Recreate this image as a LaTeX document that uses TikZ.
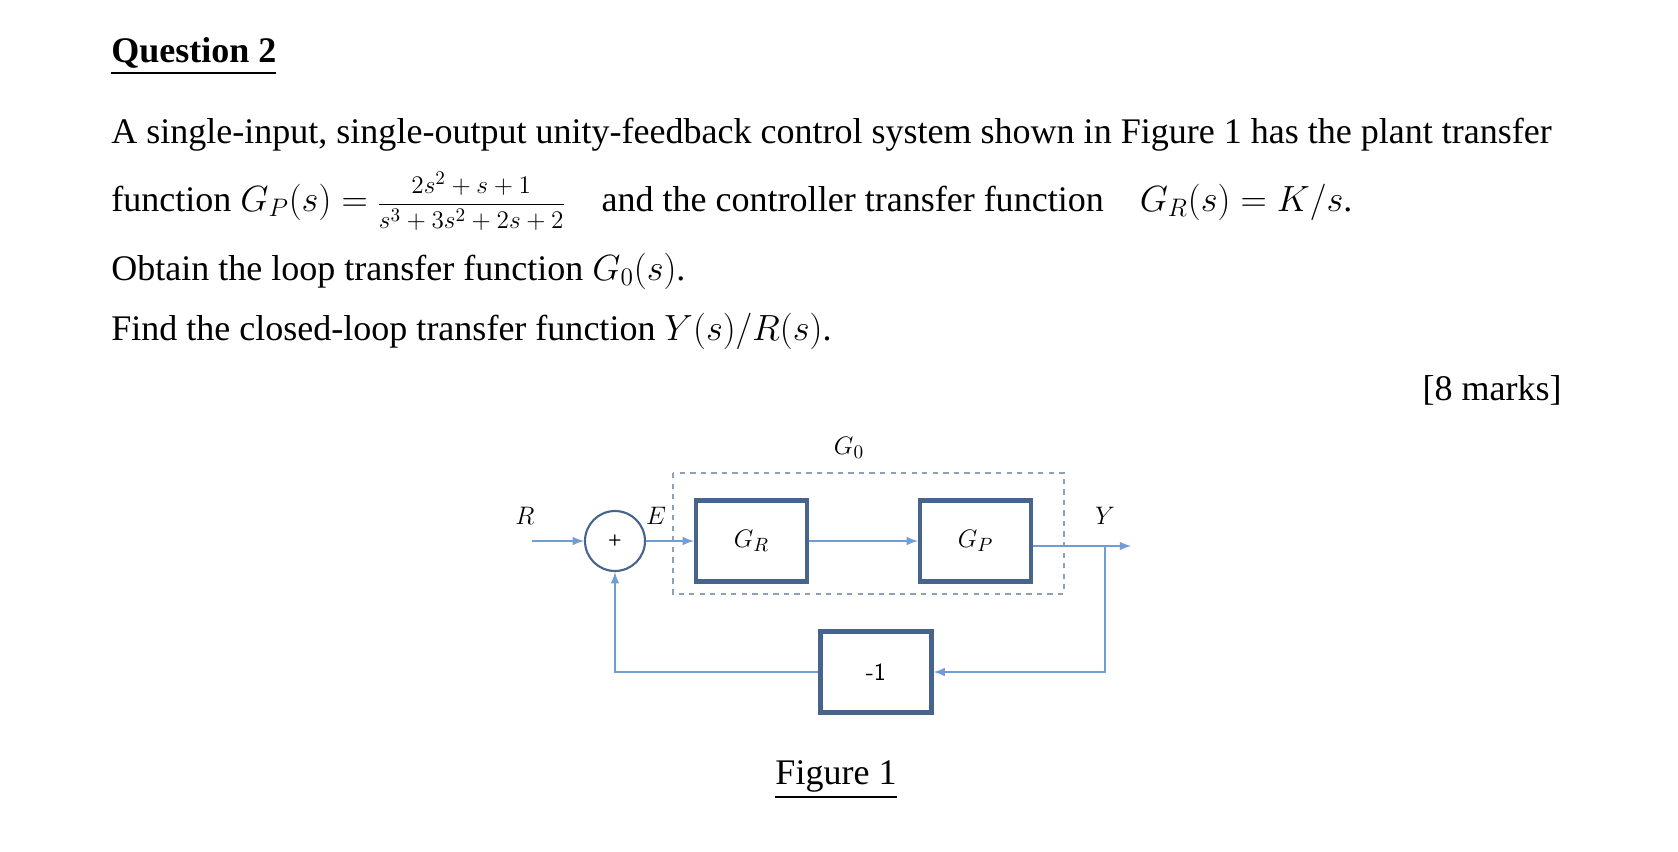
\documentclass[tikz,border=0pt]{standalone}
\usepackage{fontspec}
\setmainfont{Liberation Serif}
\usepackage{amsmath}
\begin{document}
\begin{tikzpicture}[x=0.02cm,y=-0.02cm,
  txt/.style={anchor=base west,inner sep=0,font=\fontsize{20.5}{24}\selectfont},
  blk/.style={draw=blkc,line width=2.4pt,minimum width=2.22cm,minimum height=1.62cm,inner sep=0},
  sig/.style={draw=sigc,line width=1.2pt,-latex},
  lbl/.style={font=\fontsize{15}{17}\selectfont}]
\definecolor{blkc}{RGB}{70,100,140}
\definecolor{sigc}{RGB}{112,157,212}
\definecolor{dashc}{RGB}{140,160,185}
\useasboundingbox (0,0) rectangle (1678,852);
\fill[white] (0,0) rectangle (1678,852);
\node[txt,font=\fontsize{20.5}{24}\selectfont\bfseries] (q) at (111,62) {\underline{Question 2}};
\node[txt] (l1) at (111,143) {A single-input, single-output unity-feedback control system shown in Figure 1 has the plant transfer};
\node[txt] (l2) at (111,211) {function $G_P(s)=$ {\fontsize{15}{17}\selectfont$\displaystyle\frac{2s^2+s+1}{s^3+3s^2+2s+2}$}\quad and the controller transfer function\quad $G_R(s)=K/s$.};
\node[txt] (l3) at (111,280) {Obtain the loop transfer function $G_0(s)$.};
\node[txt] (l4) at (111,340) {Find the closed-loop transfer function $Y(s)/R(s)$.};
\node[txt,anchor=base east] (mk) at (1562,400) {[8 marks]};
% diagram
\draw[dashc,dashed,line width=0.8pt] (673,473) rectangle (1064,594);
\node[lbl] (g0) at (849,448) {$G_0$};
\node[circle,draw=blkc,line width=1.2pt,minimum size=1.2cm,inner sep=0,font=\small\sffamily\bfseries] (sum) at (615,541) {+};
\node[blk,lbl] (gr) at (751.5,541) {$G_R$};
\node[blk,lbl] (gp) at (975.5,541) {$G_P$};
\node[blk,font=\sffamily\fontsize{14}{16}\selectfont] (fb) at (876,672) {-1};
\node[lbl] (R) at (525,516) {$R$};
\node[lbl] (E) at (656,516) {$E$};
\node[lbl] (Y) at (1105,516) {$Y$};
\coordinate (in) at (532,541);
\coordinate (out) at (1131,546);
\coordinate (br) at (1105,546);
\draw[sig] (in) -- (sum);
\draw[sig] (sum) -- (gr);
\draw[sig] (gr) -- (gp);
\draw[sig] (gp.east |- out) -- (out);
\draw[sig] (br) |- (fb);
\draw[sig] (fb) -| (sum);
\node[txt,anchor=base] (fig) at (836,784) {\underline{Figure 1}};
\end{tikzpicture}
\end{document}
